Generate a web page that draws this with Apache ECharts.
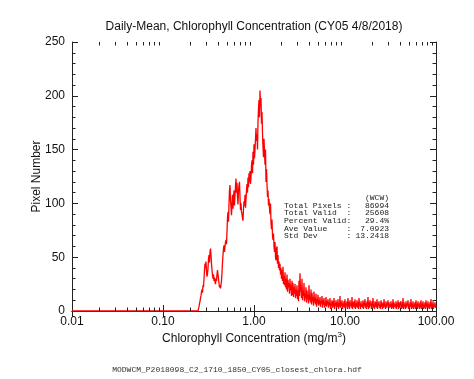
<!DOCTYPE html>
<html>
<head>
<meta charset="utf-8">
<script src="https://cdn.jsdelivr.net/npm/echarts@6/dist/echarts.min.js"></script>
<style>html,body{margin:0;padding:0;background:#fff}#c{width:474px;height:379px}</style>
</head>
<body>
<div id="c"></div>
<script>
// ---- data ----
const titleText = 'Daily-Mean, Chlorophyll Concentration (CY05 4/8/2018)';
const fileName = 'MODWCM_P2018098_C2_1710_1850_CY05_closest_chlora.hdf';
const xTickLabels = ['0.01', '0.10', '1.00', '10.00', '100.00'];
const yTickLabels = ['0', '50', '100', '150', '200', '250'];
const statLabels = ['Total Pixels :', 'Total Valid  :', 'Percent Valid:', 'Ave Value    :', 'Std Dev      :'];
const statValues = ['86994', '25608', '29.4%', '7.0923', '13.2418'];
const statHeader = '(WCW)';
// histogram bins: log10(chl) starts at LOG_START, BINS_PER_DECADE bins per decade
const LOG_START = -0.6154;
const BINS_PER_DECADE = 182;
const zeroStart = 0.01; // histogram is zero from 0.01 up to first bin
const counts = [
0,2,4,7,9,12,14,18,20,17,24,22,30,38,44,40,46,36,32,35,
40,48,52,45,55,58,52,44,38,33,30,34,28,31,27,25,30,28,34,38,
37,30,26,22,24,21,22,28,36,45,52,58,61,55,60,64,66,62,74,87,
92,83,100,112,117,103,96,89,100,108,95,104,112,98,108,116,123,110,119,105,
99,112,117,120,106,94,100,92,90,86,84,95,102,98,108,96,104,112,118,110,
124,115,128,120,130,118,124,135,140,128,148,136,155,142,150,160,170,158,164,150,
176,188,196,180,205,190,198,174,185,165,152,143,160,148,136,150,120,132,118,106,
112,98,104,95,90,100,82,76,85,70,66,72,60,55,64,50,47,58,60,44,
52,40,46,38,44,34,40,30,38,28,41,25,32,24,36,22,30,20,34,18,
29,22,26,16,30,19,24,14,28,15,26,13,22,16,25,12,20,14,24,11,
19,9,28,14,35,18,22,12,30,10,18,14,26,9,16,12,22,8,19,11,
15,7,24,10,14,8,20,6,17,9,13,5,18,8,12,6,16,4,11,7,
15,5,10,6,13,4,9,7,14,3,10,6,12,3,8,5,13,4,9,6,
11,3,8,5,12,2,7,5,10,3,9,4,12,2,7,5,10,3,8,4,
11,2,7,4,14,3,8,5,10,2,7,4,9,3,11,2,7,5,9,2,
12,4,8,2,10,5,7,3,13,2,8,4,9,3,11,2,7,4,10,3,
8,2,12,5,7,2,9,4,6,3,10,2,8,5,11,3,7,2,9,4,
13,2,8,3,10,5,7,2,9,4,12,3,6,2,9,4,8,3,11,2,
7,5,9,3,6,2,10,4,8,2,7,3,11,4,6,2,9,3,7,5,
10,2,8,3,6,4,9,2,7,3,11,2,8,4,6,3,9,2,7,4,
10,2,8,3,6,5,9,2,7,3,12,2,8,4,6,2,9,3,7,5,
10,2,6,3,8,4,11,2,7,3,9,2,6,4,8,2,10,3,7,2,
9,4,6,2,8,3,10,2,7,4,9,2,6,3,8,2,10,4,7,2,
9,3,6,2,8,4,11,2,7,3,9,2,6,4,8,3,5
];

// ---- build ----
const seriesData = [[zeroStart, 0]].concat(
  counts.map((c, i) => [Math.pow(10, LOG_START + i / BINS_PER_DECADE), c])
);
const minorTickValues = [];
for (let e = -2; e < 2; e++) {
  for (let k = 2; k <= 9; k++) minorTickValues.push([k * Math.pow(10, e), 0]);
}

const AX = '#222';
const FONT = '"Liberation Sans", Arial, Helvetica, sans-serif';
const MONO = '"Liberation Mono", "DejaVu Sans Mono", monospace';

function xLabel(v) {
  const idx = Math.round(Math.log10(v)) + 2;
  return xTickLabels[idx] !== undefined ? xTickLabels[idx] : '';
}
function yLabel(v) {
  const idx = Math.round(v / 50);
  return yTickLabels[idx] !== undefined ? yTickLabels[idx] : '';
}

const xBase = {
  type: 'log', logBase: 10, min: 0.01, max: 100,
  axisLine: { show: true, lineStyle: { color: AX, width: 1 } },
  axisTick: { show: true, inside: true, length: 6, lineStyle: { color: AX } },
  splitLine: { show: false },
  minorTick: { show: false },
  minorSplitLine: { show: false }
};
const yBase = {
  type: 'value', min: 0, max: 250, interval: 50,
  axisLine: { show: true, lineStyle: { color: AX, width: 1 } },
  axisTick: { show: true, inside: true, length: 6, lineStyle: { color: AX } },
  minorTick: { show: true, splitNumber: 5, length: 3.5, lineStyle: { color: AX } },
  splitLine: { show: false }
};

const chart = echarts.init(document.getElementById('c'), null, { renderer: 'canvas' });
chart.setOption({
  animation: false,
  backgroundColor: '#fff',
  grid: { left: 72, right: 38, top: 42, bottom: 68, containLabel: false },
  xAxis: [
    Object.assign({}, xBase, {
      position: 'bottom',
      axisLabel: { show: true, color: '#111', fontFamily: FONT, fontSize: 12, margin: 5, formatter: xLabel },
      name: 'Chlorophyll Concentration (mg/m{sup|3})',
      nameLocation: 'middle', nameGap: 20, nameMoveOverlap: false,
      nameTextStyle: {
        color: '#111', fontFamily: FONT, fontSize: 12,
        rich: { sup: { fontSize: 8, verticalAlign: 'top', padding: [0, 0, 8, 0], color: '#111', fontFamily: FONT } }
      }
    }),
    Object.assign({}, xBase, { position: 'top', axisLabel: { show: false } })
  ],
  yAxis: [
    Object.assign({}, yBase, {
      position: 'left',
      axisLabel: { show: true, color: '#111', fontFamily: FONT, fontSize: 12, margin: 7, formatter: yLabel },
      name: 'Pixel Number', nameLocation: 'middle', nameGap: 29, nameMoveOverlap: false,
      nameTextStyle: { color: '#111', fontFamily: FONT, fontSize: 12 }
    }),
    Object.assign({}, yBase, { position: 'right', axisLabel: { show: false } })
  ],
  series: [
    {
      type: 'line', xAxisIndex: 0, yAxisIndex: 0,
      data: seriesData, showSymbol: false, symbol: 'none',
      lineStyle: { color: '#ff0000', width: 1.3 },
      clip: true, z: 3
    },
    {
      type: 'custom', xAxisIndex: 0, yAxisIndex: 0,
      data: minorTickValues, silent: true, clip: false, z: 4,
      encode: { x: 0, y: 1 },
      renderItem: function (params, api) {
        const v = api.value(0);
        const b = api.coord([v, 0]);
        const t = api.coord([v, 250]);
        const x = Math.round(b[0]) + 0.5;
        return {
          type: 'group', children: [
            { type: 'line', shape: { x1: x, y1: b[1], x2: x, y2: b[1] - 3.5 }, style: { stroke: AX, lineWidth: 1 } },
            { type: 'line', shape: { x1: x, y1: t[1], x2: x, y2: t[1] + 3.5 }, style: { stroke: AX, lineWidth: 1 } }
          ]
        };
      }
    }
  ],
  graphic: [
    { type: 'text', x: 254, y: 27, style: { text: titleText, fill: '#111', font: '12px ' + FONT, textAlign: 'center', textVerticalAlign: 'middle' } },
    { type: 'text', x: 389, y: 194, style: { text: [statHeader].concat(statValues).join('\n'), fill: '#222', font: '8px ' + MONO, textAlign: 'right', textVerticalAlign: 'top', lineHeight: 7.7 } },
    { type: 'text', x: 284, y: 201.7, style: { text: statLabels.join('\n'), fill: '#222', font: '8px ' + MONO, textAlign: 'left', textVerticalAlign: 'top', lineHeight: 7.7 } },
    { type: 'text', x: 237, y: 370, style: { text: fileName, fill: '#333', font: '8px ' + MONO, textAlign: 'center', textVerticalAlign: 'middle' } }
  ]
});
</script>
</body>
</html>
